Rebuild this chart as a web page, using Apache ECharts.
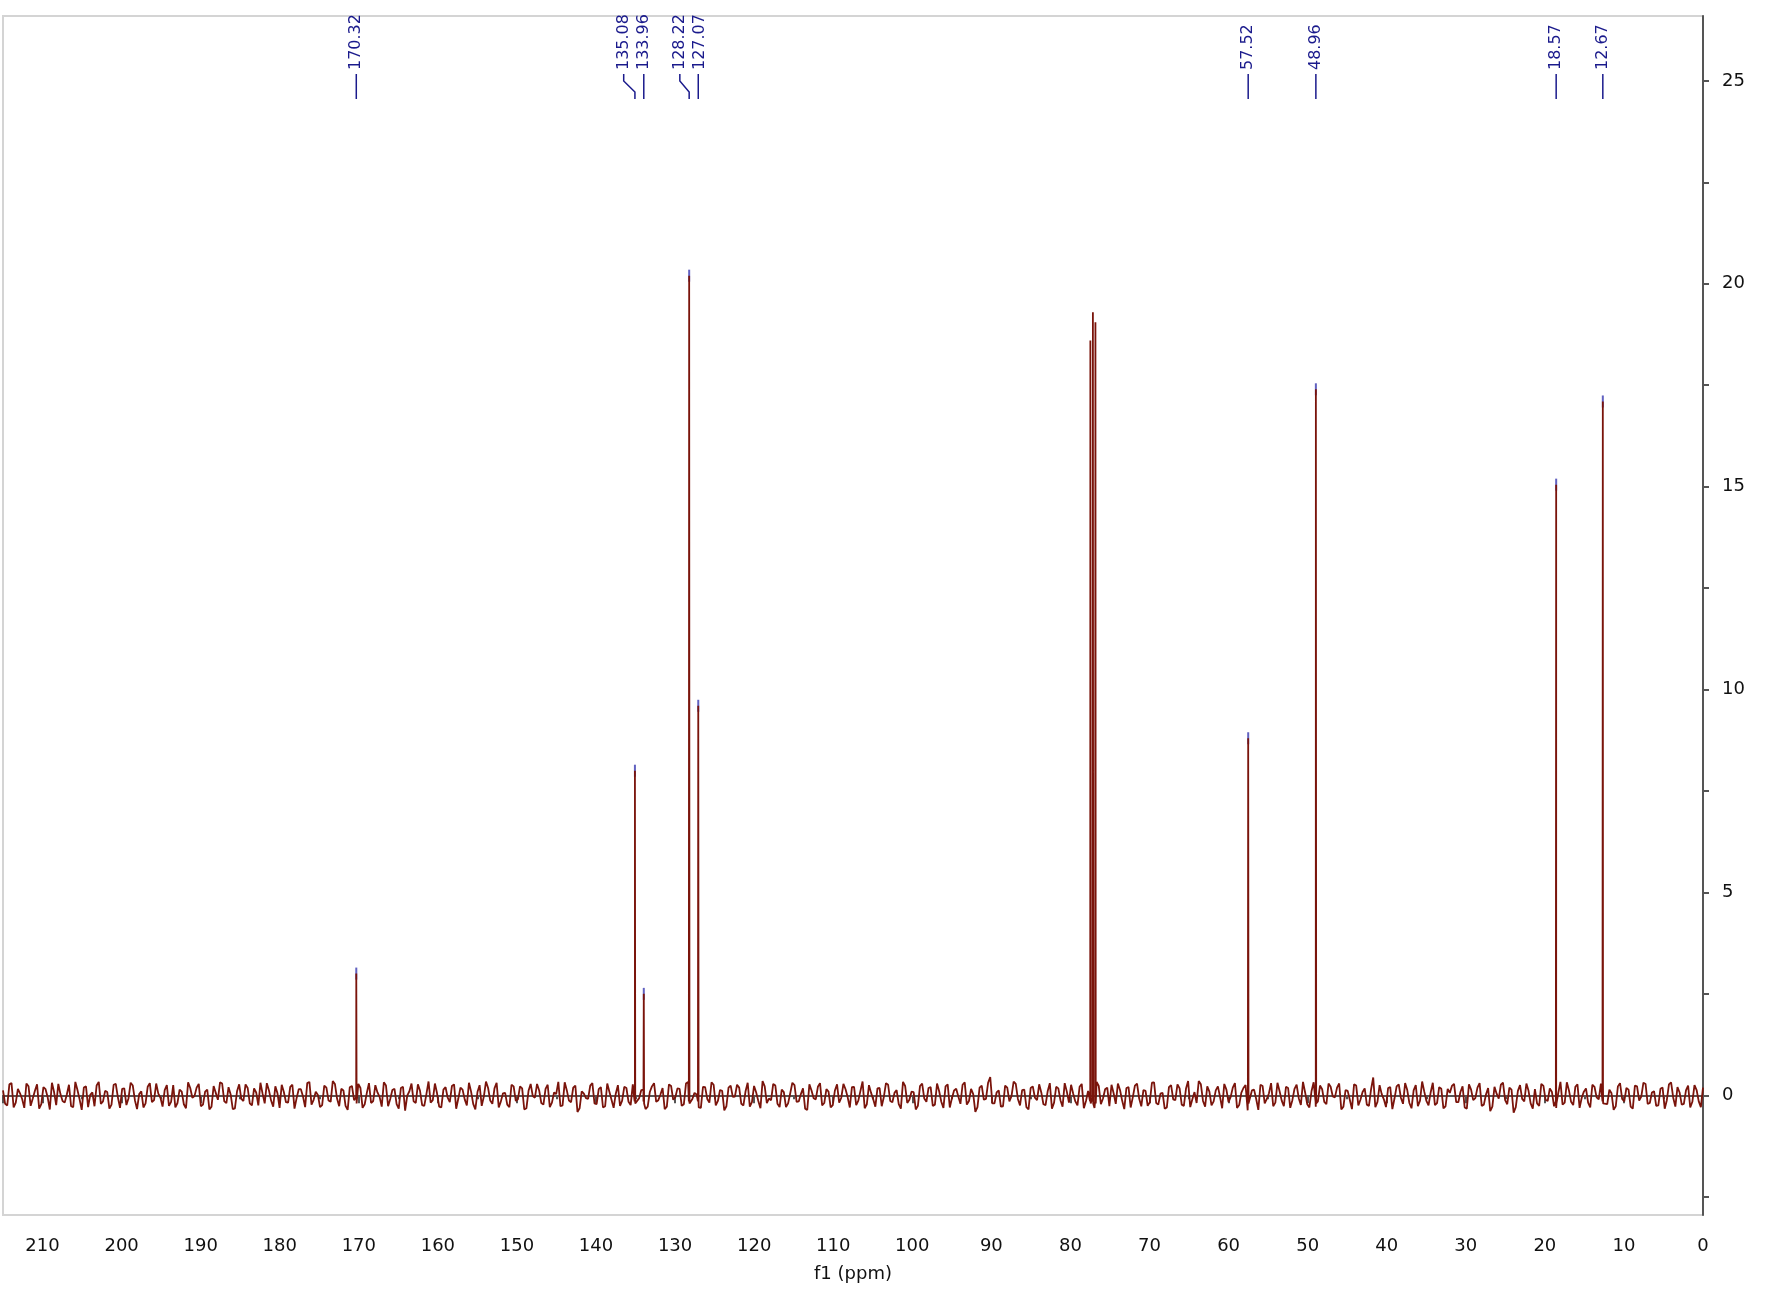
<!doctype html>
<html>
<head>
<meta charset="UTF-8">
<title>13C NMR</title>
<script src="https://cdn.jsdelivr.net/npm/echarts@6/dist/echarts.min.js"></script>
<style>
  html, body { margin: 0; padding: 0; background: #fff; }
  #main { width: 1770px; height: 1300px; }
</style>
</head>
<body>
<div id="main"></div>
<script>
// peaks: ppm, intensity
var peakPpm = [170.32, 135.08, 133.96, 128.22, 127.07, 77.48, 77.16, 76.84, 57.52, 48.96, 18.57, 12.67];
var peakHeight = [3.0, 8.0, 2.5, 20.2, 9.6, 18.6, 19.3, 19.05, 8.8, 17.4, 15.05, 17.1];
var peakPicked = [true, true, true, true, true, false, false, false, true, true, true, true];
// label text and where the label sits (ppm), connector leads to the peak
var labelText = ['170.32', '135.08', '133.96', '128.22', '127.07', '57.52', '48.96', '18.57', '12.67'];
var labelPos = [170.32, 136.5, 133.9, 129.4, 126.9, 57.52, 48.96, 18.57, 12.67];
var labelPeak = [170.32, 135.08, 133.96, 128.22, 127.07, 57.52, 48.96, 18.57, 12.67];
var yMajor = [0, 5, 10, 15, 20, 25];
var yTicks = [-2.5, 0, 2.5, 5, 7.5, 10, 12.5, 15, 17.5, 20, 22.5, 25];
// baseline noise, two interleaved runs from 215 to 0 ppm
var noiseA = [
  0.12,-0.25,0.30,-0.18,0.05,-0.31,0.22,-0.08,0.27,-0.22,0.15,-0.35,0.08,0.28,-0.14,0.02,-0.27,0.33,-0.10,0.19,
  -0.29,0.07,0.24,-0.21,0.11,-0.33,0.26,-0.05,0.16,-0.24,0.31,-0.12,0.03,-0.30,0.21,-0.17,0.29,-0.06,0.13,-0.26,
  0.25,-0.19,0.09,-0.32,0.18,-0.02,0.28,-0.23,0.14,-0.28,0.06,0.32,-0.15,0.20,-0.34,0.10,-0.09,0.27,-0.20,0.17,
  -0.25,0.04,0.30,-0.13,0.22,-0.31,0.08,-0.18,0.26,-0.07,0.15,-0.29,0.33,-0.11,0.01,-0.24,0.19,-0.16,0.28,-0.27,
  0.12,-0.36,0.23,-0.04,0.18,-0.22,0.30,-0.14,0.07,-0.28,0.24,-0.09,0.16,-0.33,0.21,-0.01,0.29,-0.19,0.11,-0.26,
  0.34,-0.12,0.05,-0.30,0.20,-0.17,0.27,-0.08,0.14,-0.25,0.09,-0.35,0.25,-0.03,0.18,-0.21,0.31,-0.15,0.06,-0.29,
  0.22,-0.10,0.17,-0.32,0.28,-0.06,0.12,-0.23,0.26,-0.18,0.03,-0.27,0.32,-0.13,0.19,-0.41,0.10,-0.07,0.24,-0.20,
  0.15,-0.30,0.29,-0.11,0.04,-0.26,0.21,-0.16,0.27,-0.24,0.13,-0.34,0.08,0.30,-0.12,0.18,-0.28,0.23,-0.05,0.16,
  -0.22,0.33,-0.09,0.02,-0.31,0.20,-0.18,0.26,-0.14,0.11,-0.27,0.24,-0.03,0.19,-0.25,0.31,-0.17,0.07,-0.32,0.22,
  -0.08,0.28,-0.21,0.14,-0.29,0.05,0.25,-0.15,0.17,-0.36,0.12,-0.10,0.30,-0.19,0.09,-0.24,0.27,-0.06,0.15,-0.30,
  0.21,-0.13,0.34,-0.22,0.06,-0.28,0.18,-0.04,0.26,-0.17,0.13,-0.33,0.23,-0.11,0.08,-0.26,0.29,-0.16,0.20,-0.23,
  0.10,-0.31,0.27,-0.07,0.16,-0.21,0.32,-0.14,0.03,-0.29,0.24,-0.09,0.45,-0.20,0.12,-0.27,0.19,-0.02,0.28,-0.25,
  0.14,-0.35,0.22,-0.12,0.07,-0.24,0.30,-0.18,0.17,-0.28,0.09,0.26,-0.15,0.21,-0.32,0.11,-0.06,0.33,-0.22,0.15,
  -0.27,0.05,0.29,-0.13,0.18,-0.30,0.24,-0.08,0.13,-0.26,0.31,-0.19,0.04,-0.33,0.20,-0.10,0.27,-0.23,0.16,-0.29,
  0.08,0.35,-0.14,0.22,-0.25,0.12,-0.04,0.28,-0.17,0.19,-0.31,0.06,0.25,-0.21,0.14,-0.36,0.23,-0.09,0.30,-0.18,
  0.10,-0.27,0.18,-0.12,0.26,-0.24,0.07,-0.30,0.32,-0.15,0.15,-0.22,0.21,-0.05,0.29,-0.28,0.11,-0.34,0.24,-0.11,
  0.17,-0.26,0.44,-0.16,0.03,-0.29,0.20,-0.08,0.27,-0.21,0.13,-0.32,0.25,-0.13,0.09,-0.25,0.31,-0.19,0.16,-0.27,
  0.06,0.28,-0.17,0.22,-0.33,0.14,-0.07,0.30,-0.23,0.18,-0.28,0.04,0.26,-0.12,0.19,-0.43,0.11,-0.09,0.29,-0.20,
  0.15,-0.26,0.23,-0.14,0.08,-0.31,0.33,-0.18,0.12,-0.24,0.27,-0.06,0.17,-0.30,0.21,-0.10,0.25,-0.22,0.05,-0.27,
  0.30,-0.15,0.14,-0.33,0.22,-0.03,0.28,-0.19,0.10,-0.25,0.19,-0.12,0.32,-0.28,0.07,-0.21,0.24,-0.16,0.13,-0.29
];
var noiseB = [
  -0.21,0.27,-0.30,0.16,-0.09,0.29,-0.26,0.11,-0.33,0.20,-0.05,0.31,-0.24,0.03,-0.18,0.26,-0.29,0.13,-0.36,0.22,
  0.01,-0.27,0.33,-0.15,0.08,-0.23,0.28,-0.31,0.17,-0.07,0.24,-0.34,0.10,-0.20,0.30,-0.12,0.04,-0.28,0.25,-0.16,
  -0.30,0.14,-0.22,0.32,-0.06,0.19,-0.27,0.09,-0.35,0.23,-0.11,0.29,-0.19,0.02,-0.32,0.27,-0.14,0.18,-0.25,0.07,
  0.31,-0.20,0.12,-0.28,0.05,0.26,-0.17,0.21,-0.33,0.15,-0.03,0.30,-0.23,0.09,-0.29,0.24,-0.13,0.35,-0.08,0.16,
  -0.26,0.20,-0.12,0.28,-0.31,0.06,-0.19,0.25,-0.04,0.32,-0.27,0.13,-0.22,0.18,-0.38,0.10,-0.15,0.27,-0.24,0.03,
  -0.18,0.29,-0.28,0.14,-0.06,0.23,-0.33,0.19,-0.10,0.31,-0.21,0.08,-0.26,0.34,-0.13,0.17,-0.30,0.05,-0.23,0.26,
  -0.14,0.22,-0.35,0.11,-0.02,0.28,-0.19,0.16,-0.29,0.07,0.33,-0.25,0.12,-0.17,0.24,-0.32,0.04,-0.09,0.30,-0.22,
  0.20,-0.27,0.09,-0.31,0.25,-0.13,0.18,-0.24,0.36,-0.07,0.14,-0.28,0.22,-0.16,0.02,-0.34,0.27,-0.11,0.17,-0.26,
  0.29,-0.18,0.06,-0.30,0.21,-0.09,0.32,-0.25,0.13,-0.37,0.19,-0.04,0.26,-0.21,0.10,-0.28,0.23,-0.14,0.35,-0.19,
  -0.12,0.24,-0.29,0.08,-0.20,0.31,-0.16,0.03,-0.33,0.27,-0.07,0.21,-0.25,0.15,-0.30,0.12,-0.18,0.28,-0.05,0.20,
  -0.24,0.11,-0.32,0.25,-0.10,0.17,-0.27,0.30,-0.14,0.06,-0.22,0.33,-0.19,0.09,-0.35,0.23,-0.08,0.18,-0.26,0.29,
  -0.16,0.22,-0.30,0.12,-0.03,0.26,-0.23,0.16,-0.41,0.19,-0.11,0.31,-0.20,0.07,-0.28,0.24,-0.15,0.34,-0.09,0.13,
  -0.29,0.18,-0.06,0.27,-0.22,0.10,-0.33,0.21,-0.12,0.30,-0.18,0.04,-0.25,0.28,-0.14,0.15,-0.31,0.23,-0.08,0.19,
  0.26,-0.21,0.13,-0.34,0.20,-0.05,0.29,-0.27,0.11,-0.17,0.32,-0.23,0.06,-0.30,0.25,-0.12,0.17,-0.26,0.35,-0.10,
  -0.19,0.27,-0.28,0.09,-0.15,0.22,-0.32,0.14,-0.04,0.30,-0.24,0.18,-0.37,0.12,-0.09,0.26,-0.20,0.05,-0.27,0.31,
  -0.13,0.21,-0.31,0.16,-0.07,0.33,-0.22,0.10,-0.28,0.24,-0.16,0.29,-0.03,0.19,-0.35,0.13,-0.11,0.27,-0.25,0.08,
  -0.23,0.15,-0.29,0.25,-0.10,0.18,-0.34,0.22,-0.06,0.30,-0.19,0.12,-0.27,0.34,-0.14,0.07,-0.24,0.20,-0.32,0.16,
  0.23,-0.17,0.08,-0.30,0.27,-0.12,0.19,-0.26,0.02,-0.39,0.21,-0.08,0.31,-0.22,0.14,-0.29,0.25,-0.15,0.11,-0.33,
  -0.20,0.28,-0.11,0.17,-0.27,0.06,-0.23,0.32,-0.16,0.21,-0.31,0.09,-0.18,0.26,-0.05,0.29,-0.24,0.14,-0.36,0.22,
  -0.09,0.18,-0.28,0.24,-0.13,0.31,-0.21,0.07,-0.26,0.16,-0.33,0.27,-0.06,0.20,-0.23,0.12,-0.30,0.25,-0.15,0.19
];

var spec = [];
var n = noiseA.length + noiseB.length;
var step = 215 / (n - 1);
for (var i = 0; i < noiseA.length; i++) {
  spec.push([215 - (2 * i) * step, noiseA[i]]);
  spec.push([215 - (2 * i + 1) * step, noiseB[i]]);
}
for (var k = 0; k < peakPpm.length; k++) {
  spec.push([peakPpm[k] + 0.04, -0.15]);
  spec.push([peakPpm[k], peakHeight[k]]);
  spec.push([peakPpm[k] - 0.04, -0.2]);
}
spec.sort(function (a, b) { return b[0] - a[0]; });

var tips = [];
for (var k = 0; k < peakPpm.length; k++) {
  if (peakPicked[k]) tips.push([peakPpm[k], peakHeight[k]]);
}
var labels = [];
for (var j = 0; j < labelText.length; j++) labels.push([labelPos[j], labelPeak[j], labelText[j]]);

var chart = echarts.init(document.getElementById('main'));
var font = 'DejaVu Sans';
var axisCol = '#555';
chart.setOption({
  animation: false,
  grid: { left: 3, right: 67, top: 16, bottom: 85, show: true, borderColor: '#d4d4d4', borderWidth: 2 },
  xAxis: {
    type: 'value', inverse: true, min: 0, max: 215, interval: 10,
    offset: 8,
    name: 'f1 (ppm)', nameLocation: 'middle', nameGap: 42,
    nameTextStyle: { fontFamily: font, fontSize: 18, color: '#111' },
    axisLine: { show: true, lineStyle: { color: axisCol, width: 2 } },
    axisTick: { show: true, length: 8, lineStyle: { color: axisCol, width: 2 } },
    minorTick: { show: true, splitNumber: 2, length: 4, lineStyle: { color: axisCol, width: 2 } },
    axisLabel: { fontFamily: font, fontSize: 18, color: '#111', margin: 14, showMaxLabel: false },
    splitLine: { show: false }
  },
  yAxis: {
    type: 'value', position: 'right', min: -2.95, max: 26.6, offset: 7,
    axisLine: { show: true, lineStyle: { color: axisCol, width: 2 } },
    axisTick: { show: true, length: 6, customValues: yTicks, lineStyle: { color: axisCol, width: 2 } },
    axisLabel: { fontFamily: font, fontSize: 18, color: '#111', margin: 12, customValues: yMajor },
    splitLine: { show: false }
  },
  series: [
    {
      type: 'line', data: spec, showSymbol: false, clip: true,
      lineStyle: { color: '#7a140b', width: 1.8 }
    },
    {
      type: 'scatter', data: tips, symbol: 'rect', symbolSize: [2, 12],
      itemStyle: { color: '#3a3ab0' }, z: 1
    },
    {
      type: 'custom', data: labels,
      renderItem: function (params, api) {
        var lx = api.coord([api.value(0), 0])[0];
        var px = api.coord([api.value(1), 0])[0];
        var top = 74, bot = 99;
        var pts = Math.abs(lx - px) < 1.5
          ? [[px, top], [px, bot]]
          : [[lx, top], [lx, top + 7], [px, bot - 7], [px, bot]];
        return {
          type: 'group',
          children: [
            { type: 'polyline', shape: { points: pts }, style: { stroke: '#1a1a8c', lineWidth: 1.5, fill: null } },
            {
              type: 'text', x: lx, y: 70, rotation: Math.PI / 2,
              style: { text: api.value(2), font: '16px ' + font, fill: '#1a1a8c', align: 'left', verticalAlign: 'middle' }
            }
          ]
        };
      }
    }
  ]
});
</script>
</body>
</html>
